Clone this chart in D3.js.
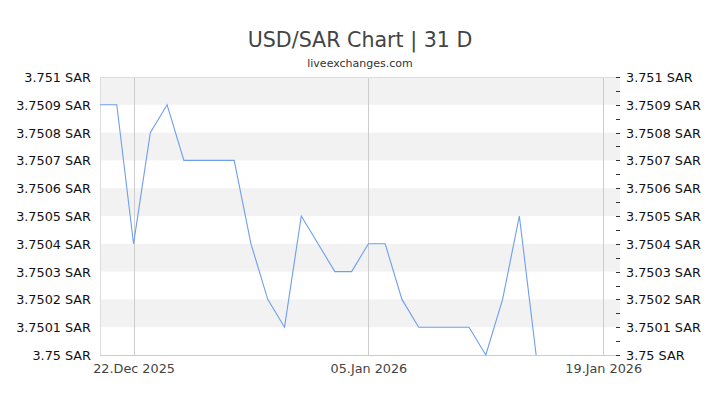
<!DOCTYPE html>
<html>
<head>
<meta charset="utf-8">
<script src="https://cdn.jsdelivr.net/npm/d3@7"></script>
<style>
	body { margin: 0; background: #fff; }
	svg, svg text { font-family: "DejaVu Sans", sans-serif; }
</style>
</head>
<body>
<div id="chart"></div>
<script>
var startDate = '2025-12-20';
var endDate = '2026-01-20';
var rates = [
	3.7509, 3.7509, 3.7504, 3.7508, 3.7509, 3.7507, 3.7507, 3.7507, 3.7507,
	3.7504, 3.7502, 3.7501, 3.7505, 3.7504, 3.7503, 3.7503, 3.7504, 3.7504,
	3.7502, 3.7501, 3.7501, 3.7501, 3.7501, 3.7500, 3.7502, 3.7505, 3.7500
];
var yTicks = [3.75, 3.7501, 3.7502, 3.7503, 3.7504, 3.7505, 3.7506, 3.7507, 3.7508, 3.7509, 3.751];
var yLabels = ['3.75', '3.7501', '3.7502', '3.7503', '3.7504', '3.7505', '3.7506', '3.7507', '3.7508', '3.7509', '3.751'];
var xTicks = ['2025-12-22', '2026-01-05', '2026-01-19'];
var xLabels = ['22.Dec 2025', '05.Jan 2026', '19.Jan 2026'];

var cfg = {
	w: 720,
	h: 405,
	mTop: 77,
	mRight: 100,
	mBottom: 50,
	mLeft: 100
};
var width = cfg.w - (cfg.mLeft + cfg.mRight),
	height = cfg.h - (cfg.mTop + cfg.mBottom);

var parse = d3.utcParse('%Y-%m-%d');
var day = 24 * 3600 * 1000;
var data = rates.map(function(v, i) {
	return { date: new Date(parse(startDate).getTime() + i * day), value: v };
});

var x = d3.scaleUtc()
	.domain([parse(startDate), parse(endDate)])
	.range([0, width]);
var y = d3.scaleLinear()
	.domain([yTicks[0], yTicks[yTicks.length - 1]])
	.range([height, 0]);

var root = d3.select('#chart').append('svg')
	.attr('width', cfg.w)
	.attr('height', cfg.h);

root.append('text')
	.attr('x', cfg.w / 2)
	.attr('y', 47)
	.attr('text-anchor', 'middle')
	.style('font-size', '20.6px')
	.style('fill', '#444')
	.text('USD/SAR Chart | 31 D');

root.append('text')
	.attr('x', cfg.w / 2)
	.attr('y', 67)
	.attr('text-anchor', 'middle')
	.style('font-size', '11px')
	.style('fill', '#333')
	.text('liveexchanges.com');

var svg = root.append('g')
	.attr('transform', 'translate(' + cfg.mLeft + ',' + cfg.mTop + ')');

// alternating bands
var bands = [];
for (var i = 1; i < yTicks.length; i += 2) {
	bands.push([yTicks[i], yTicks[i + 1]]);
}
svg.append('g').selectAll('rect')
	.data(bands)
	.enter()
	.append('rect')
	.attr('x', 0)
	.attr('width', width)
	.attr('y', function(d) { return y(d[1]); })
	.attr('height', function(d) { return y(d[0]) - y(d[1]); })
	.attr('fill', '#f2f2f2');

// vertical grid
svg.append('g').selectAll('line')
	.data(xTicks)
	.enter()
	.append('line')
	.attr('x1', function(d) { return Math.round(x(parse(d))) + 0.5; })
	.attr('x2', function(d) { return Math.round(x(parse(d))) + 0.5; })
	.attr('y1', 0)
	.attr('y2', height)
	.attr('stroke', '#ccc');

// frame
svg.append('path')
	.attr('d', 'M0.5,' + height + 'V0.5H' + width)
	.attr('fill', 'none')
	.attr('stroke', '#ddd');
svg.append('line')
	.attr('x1', 0).attr('x2', width)
	.attr('y1', height + 0.5).attr('y2', height + 0.5)
	.attr('stroke', '#ccc');

// line
svg.append('clipPath').attr('id', 'clip')
	.append('rect').attr('width', width).attr('height', height + 1);

var line = d3.line()
	.x(function(d) { return x(d.date); })
	.y(function(d) { return y(d.value); });

svg.append('path')
	.datum(data)
	.attr('clip-path', 'url(#clip)')
	.attr('d', line)
	.attr('fill', 'none')
	.attr('stroke', '#6f9ef0')
	.attr('stroke-width', 1.1);

// left axis
var yAxisL = d3.axisLeft(y).tickValues(yTicks).tickSize(0).tickPadding(9)
	.tickFormat(function(d, i) { return yLabels[i] + ' SAR'; });
svg.append('g')
	.call(yAxisL)
	.attr('font-family', null)
	.call(function(g) {
		g.select('.domain').remove();
		g.selectAll('text').style('font-size', '12.8px').style('fill', '#111').attr('dy', '0.35em');
	});

// right axis
var halfTicks = d3.range(0, 21).map(function(k) { return 3.75 + k * 0.00005; });
svg.append('g')
	.attr('transform', 'translate(' + width + ',0)')
	.selectAll('line')
	.data(halfTicks)
	.enter()
	.append('line')
	.attr('x1', -4).attr('x2', 0)
	.attr('y1', function(d) { return Math.round(y(d)) + 0.5; })
	.attr('y2', function(d) { return Math.round(y(d)) + 0.5; })
	.attr('stroke', '#333');

var yAxisR = d3.axisRight(y).tickValues(yTicks).tickSize(0).tickPadding(6)
	.tickFormat(function(d, i) { return yLabels[i] + ' SAR'; });
svg.append('g')
	.attr('transform', 'translate(' + width + ',0)')
	.call(yAxisR)
	.attr('font-family', null)
	.call(function(g) {
		g.select('.domain').remove();
		g.selectAll('text').style('font-size', '12.8px').style('fill', '#111').attr('dy', '0.35em');
	});

// x axis
var xAxis = d3.axisBottom(x).tickValues(xTicks.map(parse)).tickSize(0).tickPadding(9)
	.tickFormat(function(d, i) { return xLabels[i]; });
svg.append('g')
	.attr('transform', 'translate(0,' + height + ')')
	.call(xAxis)
	.attr('font-family', null)
	.call(function(g) {
		g.select('.domain').remove();
		g.selectAll('text').style('font-size', '12.8px').style('fill', '#444');
	});
</script>
</body>
</html>
